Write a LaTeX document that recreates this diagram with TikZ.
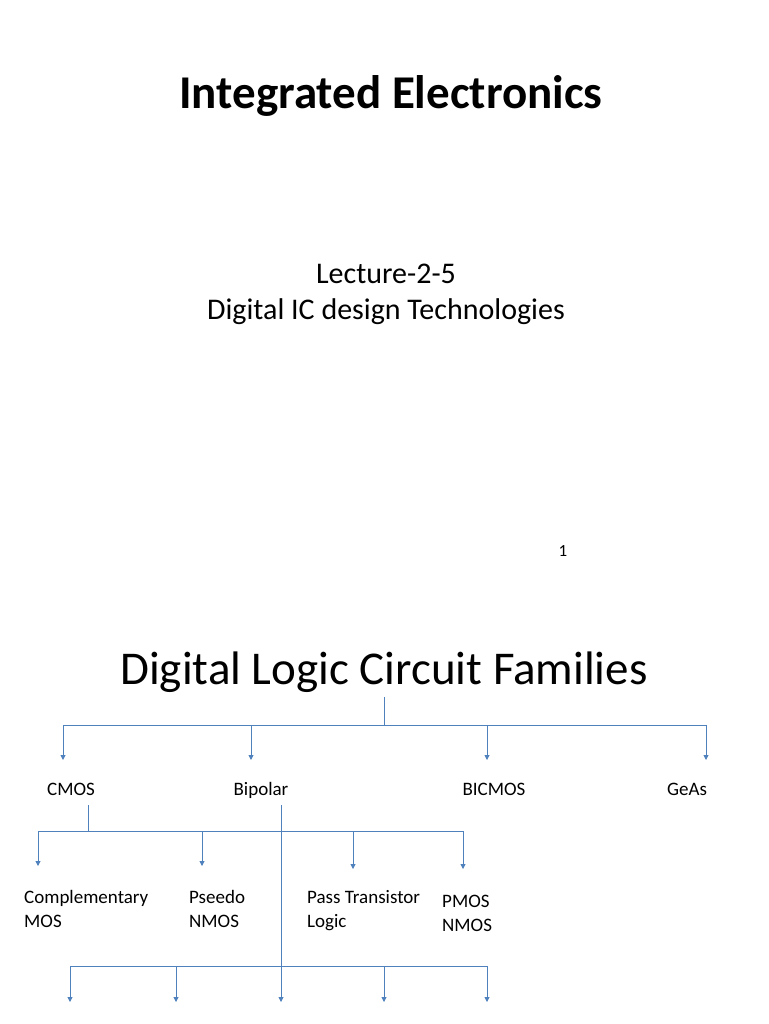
\documentclass[tikz,border=0pt]{standalone}
\usepackage{fontspec}
\setmainfont{Carlito}
\usetikzlibrary{arrows.meta}
\definecolor{lineblue}{RGB}{79,129,189}
\tikzset{
  conn/.style={draw=lineblue, line width=0.9pt},
  arr/.style={conn, -{Triangle[length=5pt,width=5pt]}},
  lbl/.style={inner sep=0pt, anchor=base, font=\fontsize{19}{22}\selectfont},
  lbltwo/.style={inner sep=0pt, align=left, anchor=base west, font=\fontsize{19}{24}\selectfont},
}
\begin{document}
\begin{tikzpicture}[x=1pt,y=-1pt]
\useasboundingbox[fill=white] (0,0) rectangle (768,1024);
% slide 1
\node[inner sep=0pt, font=\fontsize{47}{54}\bfseries\selectfont] (title) at (391,96) {Integrated Electronics};
\node[inner sep=0pt, align=center, font=\fontsize{30}{36}\selectfont] (sub) at (386,294) {Lecture-2-5\\Digital IC design Technologies};
\node[inner sep=0pt, font=\fontsize{17}{20}\selectfont] (pg) at (563,551) {1};
% slide 2
\node[inner sep=0pt, font=\fontsize{47}{54}\selectfont] (title2) at (384,672) {Digital Logic Circuit Families};
\coordinate (top) at (384,697);
\coordinate (h1) at (384,725);
\coordinate (h1l) at (63,725);
\coordinate (h1r) at (706,725);
\node[lbl] (cmos) at (71,795) {CMOS};
\node[lbl] (bip) at (261,795) {Bipolar};
\node[lbl] (bic) at (494,795) {BICMOS};
\node[lbl] (geas) at (687,795) {GeAs};
\coordinate (a1) at (63,760);
\coordinate (a2) at (251,760);
\coordinate (a3) at (487,760);
\coordinate (a4) at (706,760);
\draw[conn] (top) -- (h1);
\draw[conn] (h1l) -- (h1r);
\draw[arr] (h1l) -- (a1);
\draw[arr] (a2 |- h1) -- (a2);
\draw[arr] (a3 |- h1) -- (a3);
\draw[arr] (h1r) -- (a4);
% CMOS subtree
\coordinate (c0) at (88,805);
\coordinate (c1) at (88,831);
\coordinate (cl) at (38,831);
\coordinate (cr) at (463,831);
\coordinate (b1) at (38,866);
\coordinate (b2) at (202,866);
\coordinate (b3) at (353,869);
\coordinate (b4) at (463,869);
\draw[conn] (c0) -- (c1);
\draw[conn] (cl) -- (cr);
\draw[arr] (cl) -- (b1);
\draw[arr] (b2 |- c1) -- (b2);
\draw[arr] (b3 |- c1) -- (b3);
\draw[arr] (cr) -- (b4);
\node[lbltwo] (comp) at (24,927) {Complementary\\MOS};
\node[lbltwo] (pseudo) at (189,927) {Pseedo\\NMOS};
\node[lbltwo] (pass) at (307,927) {Pass Transistor\\Logic};
\node[lbltwo] (pmos) at (442,931) {PMOS\\NMOS};
% Bipolar subtree
\coordinate (p0) at (281,805);
\coordinate (p1) at (281,966);
\coordinate (pl) at (70,966);
\coordinate (pr) at (488,966);
\draw[conn] (p0) -- (p1);
\draw[conn] (pl) -- (pr);
\coordinate (d1) at (70,1002);
\coordinate (d2) at (176,1002);
\coordinate (d3) at (281,1002);
\coordinate (d4) at (384,1002);
\coordinate (d5) at (487,1002);
\draw[arr] (pl) -- (d1);
\draw[arr] (d2 |- p1) -- (d2);
\draw[arr] (p1) -- (d3);
\draw[arr] (d4 |- p1) -- (d4);
\draw[arr] (d5 |- p1) -- (d5);
\end{tikzpicture}
\end{document}
